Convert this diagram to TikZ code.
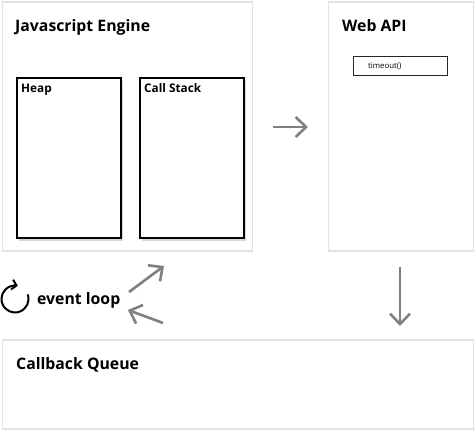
\documentclass[tikz,border=0pt]{standalone}
\usepackage{fontspec}
\setmainfont{Open Sans}
\usetikzlibrary{arrows.meta,shadows}
\definecolor{panelgray}{HTML}{E2E2E2}
\definecolor{arrowgray}{HTML}{808080}
\tikzset{
  panel/.style={draw=panelgray, line width=1.6pt, fill=white, anchor=north west, inner sep=0pt},
  memblock/.style={draw=black, line width=2pt, fill=white, anchor=north west, inner sep=0pt,
    drop shadow={shadow xshift=1.5pt, shadow yshift=-3pt, opacity=0.25, fill=black!60}},
  smallbox/.style={draw=black!85, line width=1.2pt, anchor=north west, inner sep=0pt},
  title/.style={font=\bfseries\fontsize{15.8}{18}\selectfont, anchor=base west, inner sep=0pt},
  subtitle/.style={font=\bfseries\fontsize{11.8}{14}\selectfont, anchor=base west, inner sep=0pt},
  flow/.style={draw=arrowgray, line width=2.6pt, -{Straight Barb[length=10.5pt, width=20pt, line width=2.6pt]}},
}
\begin{document}
\begin{tikzpicture}[x=1pt, y=-1pt]
\useasboundingbox (0,0) rectangle (474,430);
% panels
\node[panel, minimum width=250pt, minimum height=249pt] (engine) at (1.5,1.5) {};
\node[panel, minimum width=145pt, minimum height=249pt] (webapi) at (327.5,1.5) {};
\node[panel, minimum width=471pt, minimum height=89pt] (queue) at (1.5,339) {};
% inner blocks
\node[memblock, minimum width=104pt, minimum height=160pt] (heap) at (16,77) {};
\node[memblock, minimum width=104pt, minimum height=160pt] (stack) at (139,77) {};
\node[smallbox, minimum width=94pt, minimum height=19pt] (timeout) at (353,56) {};
% titles
\node[title] (t1) at (15,31.5) {Javascript Engine};
\node[title] (t2) at (342,31.5) {Web API};
\node[title] (t3) at (16,369.5) {Callback Queue};
\node[subtitle] (t4) at (21,93) {Heap};
\node[subtitle] (t5) at (144,93) {Call Stack};
\node[font=\fontsize{7.8}{9}\selectfont, anchor=base west, inner sep=0pt] (t6) at (368,68.5) {timeout()};
\node[title] (loop) at (37,305) {event loop};
% event loop icon
\coordinate (lc) at (15,299);
\draw[line width=2pt, -{Straight Barb[length=4.5pt, width=10pt, line width=2pt]}] (lc) ++(-20:13.5) arc[start angle=-20, end angle=282, radius=13.5];
% arrows
\coordinate (a1s) at (273,127);
\coordinate (a1e) at (308,127);
\draw[flow] (a1s) -- (a1e);
\coordinate (a2s) at (400,267);
\coordinate (a2e) at (400,326);
\draw[flow] (a2s) -- (a2e);
\coordinate (a3s) at (129,292);
\coordinate (a3e) at (164,266);
\draw[flow] (a3s) -- (a3e);
\coordinate (a4s) at (163,323);
\coordinate (a4e) at (128,310);
\draw[flow] (a4s) -- (a4e);
\end{tikzpicture}
\end{document}
